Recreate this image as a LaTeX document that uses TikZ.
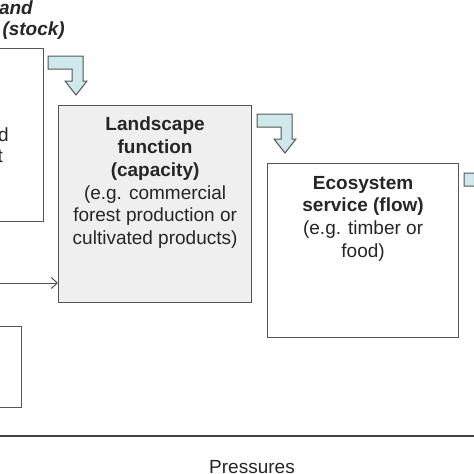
\documentclass[tikz,border=0pt]{standalone}
\usepackage{fontspec}
\setmainfont{Liberation Sans}
\usetikzlibrary{positioning,arrows.meta}
\definecolor{boxline}{HTML}{555555}
\definecolor{capfill}{HTML}{EFEFEF}
\definecolor{arrowfill}{HTML}{CFE8EC}
\tikzset{
  box/.style={draw=boxline, line width=1.2pt, inner sep=0pt, anchor=north west},
  boxtext/.style={align=center, font=\fontsize{19}{22.7}\selectfont, text=black!85, inner sep=0pt, anchor=north},
  sidetext/.style={font=\fontsize{19}{22.7}\selectfont, text=black!85, inner sep=0pt},
  bluearrow/.style={fill=arrowfill, draw=boxline, line width=1pt, line join=miter},
}
\newcommand{\bentarrow}[1]{%
  \draw[bluearrow,shift={#1}] (0,0) -- (35,0) -- (35,25) -- (39,25) -- (28,39) -- (17,25) -- (24,25) -- (24,13) -- (0,13) -- cycle;}

\begin{document}
\begin{tikzpicture}[x=1pt,y=-1pt]
    \useasboundingbox[fill=white] (0,0) rectangle (474,474);
    % boxes
    \node[box, minimum width=193pt, minimum height=173pt] (stock) at (-150,48) {};
    \node[box, fill=capfill, minimum width=193pt, minimum height=197pt] (landfn) at (58,105) {};
    \node[box, minimum width=191pt, minimum height=174pt] (ecoserv) at (267,163) {};
    \node[box, minimum width=171pt, minimum height=81pt] (lower) at (-150,326) {};
    % texts
    \node[sidetext, font=\fontsize{19}{22.7}\selectfont\bfseries\itshape, anchor=east] (stocka) at (33,8) {and};
    \node[sidetext, font=\fontsize{19}{22.7}\selectfont\bfseries\itshape, anchor=east] (stockb) at (65,31) {(stock)};
    \node[sidetext, anchor=east] (stockc) at (9,135) {d};
    \node[sidetext, anchor=east] (stockd) at (3,156) {t};
    \node[boxtext, below=12pt of landfn.north] (landtxt) {\textbf{Landscape}\\\textbf{function}\\\textbf{(capacity)}\\(e.g. commercial\\forest production or\\cultivated products)};
    \node[boxtext, below=13pt of ecoserv.north] (ecotxt) {\textbf{Ecosystem}\\\textbf{service (flow)}\\(e.g. timber or\\food)};
    % bent arrows
    \bentarrow{(48,56)}
    \bentarrow{(257,114)}
    \bentarrow{(464,173)}
    % driver arrow
    \coordinate (drv) at (0,283);
    \draw[boxline, line width=1pt, -{Straight Barb[length=6pt,width=11pt]}] (drv) -- (drv -| landfn.west);
    % pressures
    \coordinate (pl) at (0,436);
    \coordinate (pr) at (474,436);
    \draw[black!75, line width=1.3pt] (pl) -- (pr);
    \node[sidetext, anchor=base] (press) at (252,473) {Pressures};
\end{tikzpicture}
\end{document}
